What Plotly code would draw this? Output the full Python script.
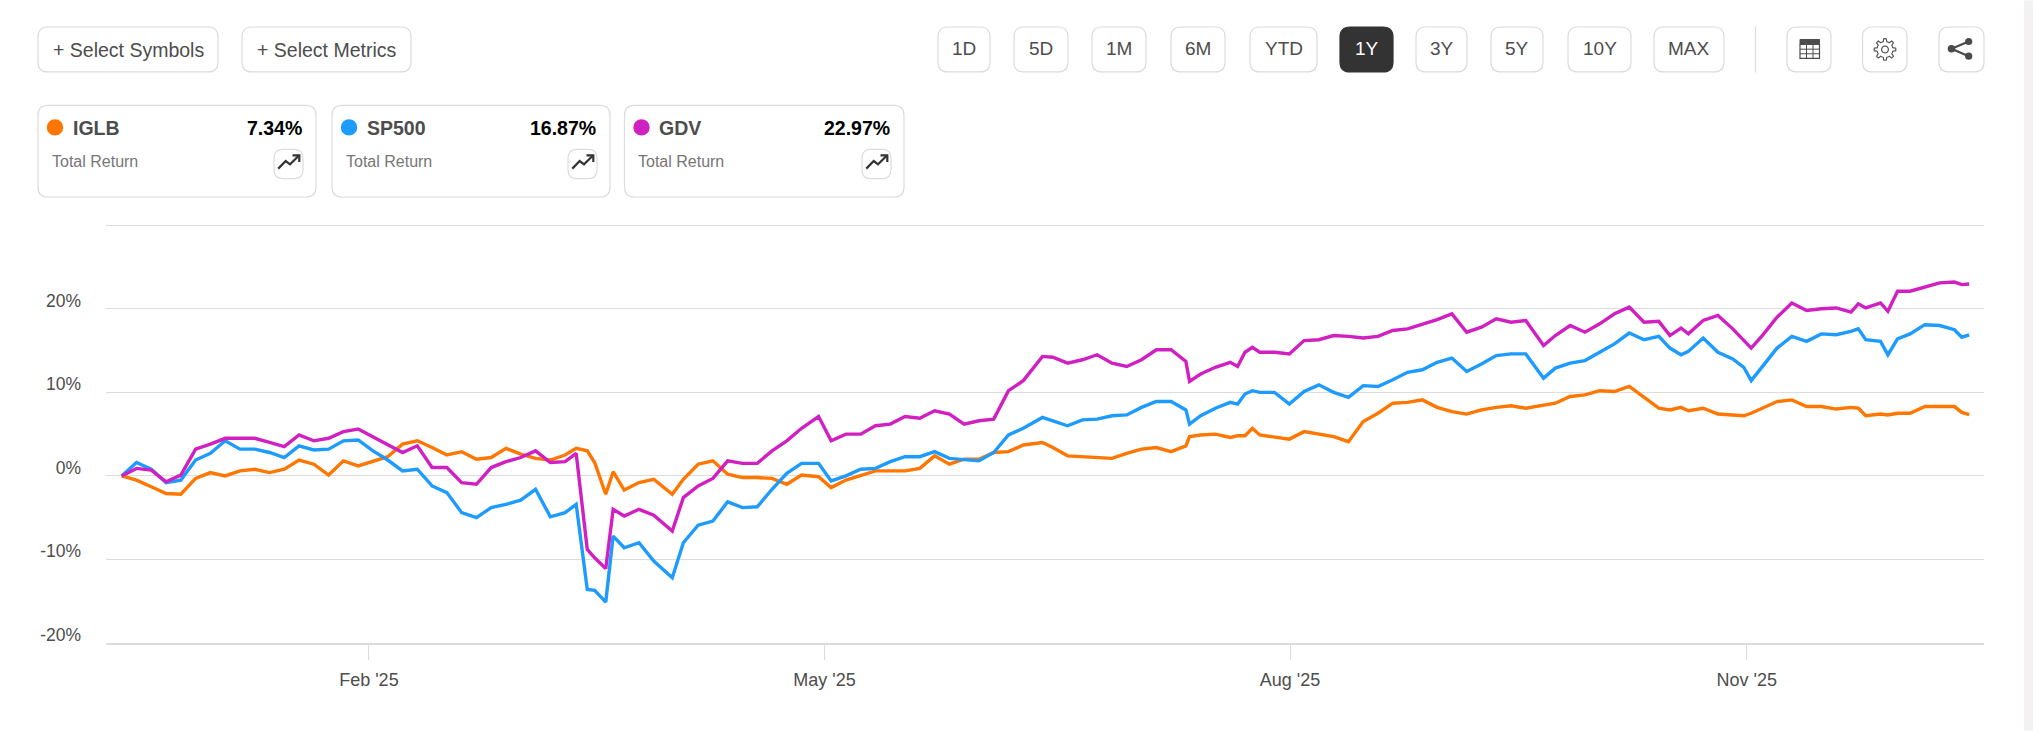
import numpy as np
import plotly.graph_objects as go

# Trading-session position of every sampled close (0 = first session of the window)
SESSIONS = [
    0, 2, 4, 6, 8, 10, 12, 14, 16, 18, 20, 22, 24, 26, 28, 30, 32, 34, 36, 38, 40, 42, 44, 46, 48,
    50, 52, 54, 56, 58, 60, 61.5, 63, 64, 65.5, 66.5, 68, 70, 72, 74.5, 76, 78, 80, 82, 84, 86, 88, 90, 92, 94.3, 96, 98,
    100, 102, 104, 106, 108, 110, 112, 114, 116, 118, 120, 122, 124.6, 126, 128, 130, 132, 134, 136, 138, 140, 142, 144, 144.5, 146, 148, 150,
    151, 152, 153, 154, 156, 158, 160, 162, 164, 166, 168, 170, 172, 174, 176, 178, 180, 182, 184, 186, 188, 190, 192.4, 194, 196, 198, 200,
    202, 204, 206, 208, 209.5, 211, 212, 214, 216, 218, 219.5, 220.5, 222, 224, 226, 228, 230, 232, 234, 235, 236, 238, 239, 240.3, 242, 244, 246, 248, 249, 250,
]

# Cumulative total return, percent
IGLB = [
    0, -0.5, -1.3, -2.1, -2.2, -0.3, 0.4, 0, 0.6, 0.8, 0.4, 0.8, 1.9, 1.4, 0.1, 1.8, 1.2, 1.8, 2.3, 3.8, 4.2, 3.4, 2.5, 2.9, 2.0,
    2.2, 3.3, 2.6, 2.1, 1.9, 2.5, 3.3, 3.0, 1.6, -2.2, 0.5, -1.7, -0.8, -0.4, -2.2, -0.4, 1.4, 1.8, 0.2, -0.2, -0.2, -0.3, -1.0, 0.1, -0.1, -1.4, -0.5,
    0, 0.6, 0.6, 0.6, 0.9, 2.4, 1.4, 2.0, 2.0, 2.8, 2.9, 3.7, 4.0, 3.4, 2.4, 2.3, 2.1, 2.1, 2.7, 3.2, 3.4, 2.9, 3.6, 4.7, 4.9, 5.0, 4.6,
    4.8, 4.8, 5.7, 4.9, 4.6, 4.4, 5.3, 5.0, 4.7, 4.1, 6.5, 7.5, 8.7, 8.8, 9.1, 8.2, 7.7, 7.4, 7.9, 8.2, 8.4, 8.1, 8.4, 8.7, 9.5, 9.7, 10.2,
    10.1, 10.7, 9.4, 8.1, 7.9, 8.2, 7.8, 8.1, 7.4, 7.3, 7.2, 7.5, 8.1, 8.9, 9.1, 8.3, 8.3, 8.0, 8.2, 8.1, 7.2, 7.4, 7.3, 7.5, 7.5, 8.3, 8.3, 8.3, 7.6, 7.34,
]
SP500 = [
    0, 1.6, 0.8, -0.8, -0.5, 1.9, 2.7, 4.2, 3.2, 3.2, 2.8, 2.2, 3.6, 3.1, 3.2, 4.2, 4.3, 3.0, 1.9, 0.6, 0.8, -1.2, -2.0, -4.4, -5.0,
    -3.8, -3.4, -2.9, -1.6, -4.9, -4.4, -3.4, -13.6, -13.7, -15.1, -7.2, -8.6, -8.0, -10.2, -12.2, -8.0, -5.9, -5.4, -3.1, -3.8, -3.7, -1.6, 0.3, 1.5, 1.5, -0.6, 0,
    0.8, 0.9, 1.7, 2.3, 2.3, 2.9, 2.1, 2.0, 1.8, 2.8, 4.9, 5.7, 7.0, 6.6, 6.0, 6.7, 6.8, 7.2, 7.3, 8.2, 8.9, 8.9, 7.9, 6.2, 7.2, 8.1, 8.8,
    8.6, 9.8, 10.2, 10.0, 10.0, 8.6, 10.1, 10.9, 10.0, 9.4, 10.8, 10.7, 11.5, 12.4, 12.7, 13.6, 14.1, 12.5, 13.4, 14.4, 14.6, 14.6, 11.7, 12.9, 13.5, 13.8, 14.8,
    15.8, 17.1, 16.3, 16.7, 15.3, 14.5, 14.9, 16.5, 14.8, 14.0, 13.0, 11.4, 13.1, 15.3, 16.7, 16.1, 17.0, 16.9, 17.3, 17.6, 16.3, 16.1, 14.5, 16.4, 17.0, 18.1, 18.0, 17.5, 16.6, 16.87,
]
GDV = [
    0, 0.9, 0.7, -0.7, 0.1, 3.2, 3.8, 4.5, 4.5, 4.5, 4.0, 3.5, 4.9, 4.2, 4.5, 5.3, 5.6, 4.7, 3.8, 2.8, 3.6, 1.0, 1.0, -0.8, -1.0,
    1.0, 1.7, 2.2, 3.0, 1.6, 1.7, 2.7, -8.8, -9.8, -11.1, -4.0, -4.8, -4.0, -4.7, -6.6, -2.6, -1.2, -0.3, 1.8, 1.5, 1.5, 3.0, 4.2, 5.7, 7.1, 4.2, 5.0,
    5.0, 6.0, 6.2, 7.1, 6.9, 7.8, 7.4, 6.2, 6.6, 6.8, 10.2, 11.4, 14.3, 14.2, 13.5, 13.9, 14.5, 13.5, 13.1, 13.9, 15.1, 15.1, 13.7, 11.3, 12.2, 13.0, 13.6,
    13.1, 14.8, 15.4, 14.8, 14.8, 14.6, 16.2, 16.3, 16.8, 16.7, 16.5, 16.7, 17.4, 17.6, 18.1, 18.7, 19.4, 17.2, 17.8, 18.8, 18.4, 18.6, 15.6, 16.8, 18.0, 17.2, 18.2,
    19.4, 20.2, 18.4, 18.5, 16.8, 17.7, 17.0, 18.6, 19.2, 17.6, 16.3, 15.3, 16.8, 19.0, 20.7, 19.8, 20.0, 20.1, 19.6, 20.6, 20.1, 20.7, 19.7, 22.1, 22.1, 22.6, 23.1, 23.2, 22.9, 22.97,
]
assert len(SESSIONS) == len(IGLB) == len(SP500) == len(GDV)

SYMBOLS = ["IGLB", "SP500", "GDV"]
RETURNS = ["7.34%", "16.87%", "22.97%"]
COLORS = ["#FF7700", "#1E9BFF", "#D120C2"]

Y_TICKS = [30, 20, 10, 0, -10, -20]
Y_LABELS = ["", "20%", "10%", "0%", "-10%", "-20%"]
X_TICKS = [33.45, 95.1, 158.1, 219.9]
X_LABELS = ["Feb '25", "May '25", "Aug '25", "Nov '25"]

RANGE_BUTTONS = ["1D", "5D", "1M", "6M", "YTD", "1Y", "3Y", "5Y", "10Y", "MAX"]
RANGE_SPANS = [(938, 990), (1014, 1068), (1092, 1146), (1171, 1225), (1250, 1317),
               (1340, 1393), (1416, 1467), (1491, 1543), (1568, 1631), (1654, 1724)]

FONT = "Liberation Sans"
BORDER = "#DCDCDC"
TEXT = "#4D4D4D"

W, H = 2033, 731
L, R, T, B = 106, 1984, 225, 643.3
# A sliver of headroom keeps the 30% gridline from being dropped at the axis end
Y_TOP = 30.15
T_PAD = T - 0.15 * (B - T) / 50


def fx(px):
    return (px - L) / (R - L)


def fy(py):
    return (B - py) / (B - T_PAD)


shapes, notes = [], []


def rrect(x0, y0, x1, y1, r=10, fill="white", line=BORDER):
    xa, xb = fx(x0), fx(x1)
    ya, yb = fy(y0), fy(y1)
    rx, ry = r / (R - L), r / (B - T_PAD)
    path = (f"M {xa+rx} {ya} L {xb-rx} {ya} Q {xb} {ya} {xb} {ya-ry} L {xb} {yb+ry} Q {xb} {yb} {xb-rx} {yb} "
            f"L {xa+rx} {yb} Q {xa} {yb} {xa} {yb+ry} L {xa} {ya-ry} Q {xa} {ya} {xa+rx} {ya} Z")
    shapes.append(dict(type="path", xref="paper", yref="paper", path=path, fillcolor=fill,
                       line=dict(color=line, width=1.2), layer="below"))


def polyline(points, color, width, closed=False, fill=None):
    d = "M " + " L ".join(f"{fx(a)} {fy(b)}" for a, b in points) + (" Z" if closed else "")
    shapes.append(dict(type="path", xref="paper", yref="paper", path=d,
                       fillcolor=fill or "rgba(0,0,0,0)", line=dict(color=color, width=width)))


def disc(cx, cy, r, color):
    shapes.append(dict(type="circle", xref="paper", yref="paper", fillcolor=color,
                       x0=fx(cx - r), x1=fx(cx + r), y0=fy(cy + r), y1=fy(cy - r),
                       line=dict(width=0)))


def label(px, py, text, size, color=TEXT, anchor="center", bold=False):
    notes.append(dict(xref="paper", yref="paper", x=fx(px), y=fy(py), xanchor=anchor, yanchor="middle",
                      text=f"<b>{text}</b>" if bold else text, showarrow=False,
                      font=dict(family=FONT, size=size, color=color)))


# Page gutter along the right edge
shapes.append(dict(type="rect", xref="paper", yref="paper", x0=fx(2024), x1=fx(2033), y0=fy(H), y1=fy(0),
                   fillcolor="#F3F1F1", line=dict(width=0), layer="below"))

# Symbol and metric pickers
rrect(38, 26.5, 218, 71.5)
label(128, 49.5, "+ Select Symbols", 19.5)
rrect(242, 26.5, 411, 71.5)
label(326.5, 49.5, "+ Select Metrics", 19.5)

# Period selector
for name, (a, b) in zip(RANGE_BUTTONS, RANGE_SPANS):
    active = name == "1Y"
    rrect(a, 26.5, b, 71.5, fill="#333333" if active else "white", line="#333333" if active else BORDER)
    label((a + b) / 2, 48.5, name, 19, color="white" if active else TEXT)

# Divider and tool buttons
polyline([(1755.5, 26), (1755.5, 72)], BORDER, 1.2)
for a, b in [(1787, 1831), (1862.5, 1907), (1939, 1984)]:
    rrect(a, 26.5, b, 71.5)

# Table icon
polyline([(1800, 39), (1819.5, 39), (1819.5, 44), (1800, 44)], "#4D4D4D", 1, closed=True, fill="#4D4D4D")
polyline([(1800, 44), (1819.5, 44), (1819.5, 58), (1800, 58)], "#4D4D4D", 1.2, closed=True)
for xv in (1806.5, 1813):
    polyline([(xv, 44), (xv, 58)], "#4D4D4D", 1)
for yv in (48.7, 53.3):
    polyline([(1800, yv), (1819.5, yv)], "#4D4D4D", 1)

# Gear icon
angles = np.linspace(0, 2 * np.pi, 57)[:-1]
radii = np.where(((angles / (2 * np.pi) * 8 + 0.2) % 1) < 0.45, 10.8, 8)
polyline([(1885 + r * np.sin(t), 49 - r * np.cos(t)) for r, t in zip(radii, angles)], "#555555", 1.2, closed=True)
rings = np.linspace(0, 2 * np.pi, 25)[:-1]
polyline([(1885 + 3.4 * np.sin(t), 49 - 3.4 * np.cos(t)) for t in rings], "#555555", 1.2, closed=True)

# Share icon
polyline([(1968.7, 41), (1951.5, 48.3), (1968.7, 55.7)], "#4A4A4A", 2.2)
disc(1968.7, 41, 3.6, "#4A4A4A")
disc(1951.5, 48.3, 3.8, "#4A4A4A")
disc(1968.7, 55.7, 3.6, "#4A4A4A")

# Summary cards, one per symbol
CARD_SPANS = [(38, 316), (332, 610), (624.5, 904)]
for name, ret, color, (a, b) in zip(SYMBOLS, RETURNS, COLORS, CARD_SPANS):
    rrect(a, 105, b, 196.7)
    disc(a + 17, 127, 8.2, color)
    label(a + 32.5, 127.5, name, 19.5, color="#4D4D4D", anchor="left", bold=True)
    label(b - 12, 127.5, ret, 19.5, color="#000000", anchor="right", bold=True)
    label(a + 11.5, 161, "Total Return", 16, color="#767676", anchor="left")
    rrect(b - 42, 149, b - 13, 178.3, r=9)
    polyline([(b - 37.7, 168.3), (b - 30.3, 160.7), (b - 26, 164), (b - 17.5, 155.7)], "#333333", 2.2)
    polyline([(b - 23.5, 155), (b - 16.7, 155), (b - 16.7, 161.7)], "#333333", 2.2)

fig = go.Figure()
for name, series, color in zip(SYMBOLS, [IGLB, SP500, GDV], COLORS):
    fig.add_trace(go.Scatter(x=SESSIONS, y=series, mode="lines", name=name,
                             line=dict(color=color, width=3.4, shape="linear")))

fig.update_layout(
    width=W, height=H, autosize=False, showlegend=False,
    paper_bgcolor="white", plot_bgcolor="white",
    margin=dict(l=L, r=W - R, t=T_PAD, b=H - B, pad=0),
    shapes=shapes, annotations=notes,
    font=dict(family=FONT, size=17, color=TEXT),
)
fig.update_xaxes(
    range=[(L - 121.7) / 7.39, (R - 121.7) / 7.39], tickmode="array", tickvals=X_TICKS, ticktext=X_LABELS,
    showgrid=False, zeroline=False, showline=True, linecolor=BORDER, linewidth=2,
    ticks="outside", ticklen=15, tickwidth=1.2, tickcolor=BORDER, tickfont=dict(size=18, color=TEXT),
    ticklabelstandoff=4,
)
fig.update_yaxes(
    range=[-20, Y_TOP], tickmode="array", tickvals=Y_TICKS, ticktext=Y_LABELS,
    showgrid=True, gridcolor=BORDER, gridwidth=1.4, zeroline=False, showline=False,
    ticks="", ticklabelposition="outside top", ticklabelstandoff=24, ticklabelshift=4,
    tickfont=dict(size=17.5, color=TEXT),
)

fig.write_html("out.html")
